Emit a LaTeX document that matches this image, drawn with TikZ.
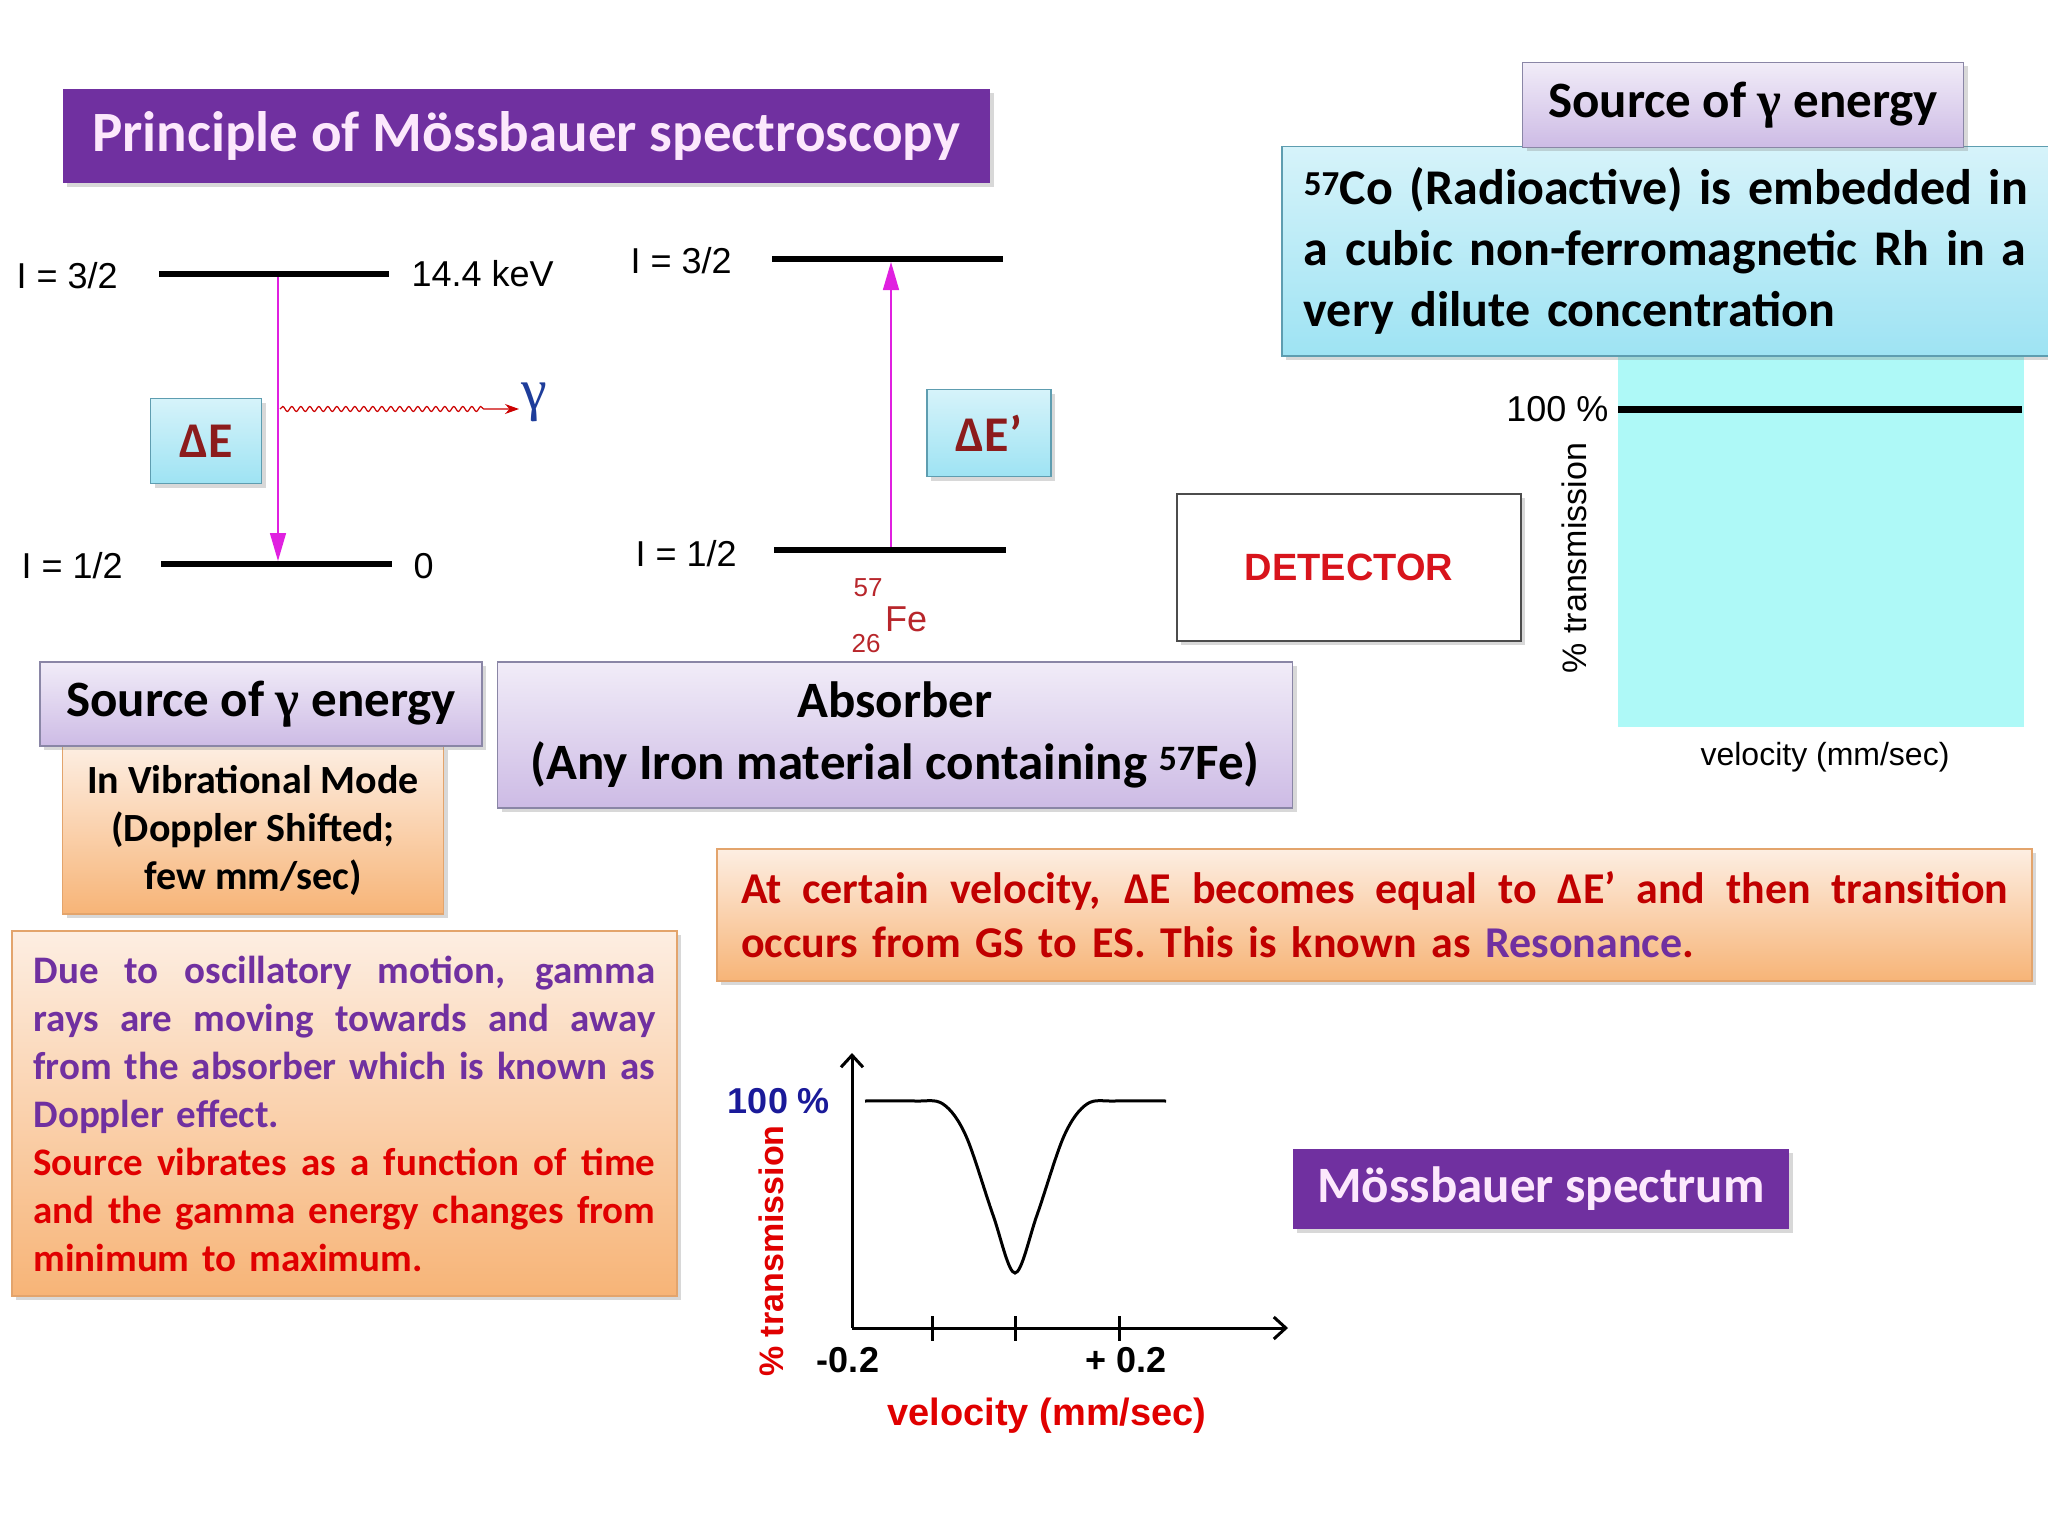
\documentclass[tikz,border=0pt]{standalone}
\usepackage{fontspec}
\setmainfont{Carlito}
\newfontfamily\arialf{Liberation Sans}
\newfontfamily\timesf{Liberation Serif}
\usepackage{xcolor}
\definecolor{mbpurple}{HTML}{7030A0}
\definecolor{titlepink}{HTML}{FCE8FC}
\definecolor{lavtop}{HTML}{F1ECF8}
\definecolor{lavbot}{HTML}{CDBBE5}
\definecolor{lavline}{HTML}{8A86A6}
\definecolor{cyantop}{HTML}{D6F3FA}
\definecolor{cyanbot}{HTML}{9EE3F3}
\definecolor{cyanline}{HTML}{5E9DB0}
\definecolor{orgtop}{HTML}{FDEEE2}
\definecolor{orgbot}{HTML}{F7B477}
\definecolor{orgline}{HTML}{E3A46C}
\definecolor{plotcyan}{HTML}{AEF9F7}
\definecolor{deltared}{HTML}{8C1C1C}
\definecolor{resred}{HTML}{C00000}
\definecolor{dopred}{HTML}{E00000}
\definecolor{detred}{HTML}{D8141C}
\definecolor{gammablue}{HTML}{1E3D9A}
\definecolor{axisblue}{HTML}{1A1A99}
\definecolor{fered}{HTML}{B8262B}
\definecolor{transmag}{HTML}{E020E0}
\usetikzlibrary{arrows.meta,decorations.pathmorphing,shadows,positioning}
% one justified line of fixed width
\newcommand{\jline}[2]{\leavevmode\hbox to #1{\spaceskip=\fontdimen2\font plus 1fil minus .3\fontdimen2\font\relax #2}}

\begin{document}
\begin{tikzpicture}[x=1pt, y=-1pt,
    shbox/.style={drop shadow={shadow xshift=4pt, shadow yshift=-4pt, opacity=.3}},
    headbox/.style={fill=mbpurple, text=titlepink, inner sep=0pt, font=\fontsize{57}{64}\selectfont\bfseries, shbox},
    lavbox/.style={draw=lavline, line width=1.5pt, top color=lavtop, bottom color=lavbot, inner sep=0pt, align=center, font=\fontsize{51}{62}\selectfont\bfseries, shbox},
    cyanbox/.style={draw=cyanline, line width=1.5pt, top color=cyantop, bottom color=cyanbot, inner sep=0pt, shbox},
    orgbox/.style={draw=orgline, line width=1.5pt, top color=orgtop, bottom color=orgbot, inner sep=0pt, shbox},
    deltabox/.style={cyanbox, text=deltared, font=\fontsize{50}{52}\selectfont\bfseries},
    level/.style={line width=6pt},
    lab/.style={font=\arialf\fontsize{36}{40}\selectfont, anchor=west},
    trans/.style={draw=transmag, line width=1.5pt, -{Triangle[length=28pt, width=16pt]}},
    wavy/.style={draw=red!80!black, line width=1.2pt, decorate, decoration={snake, amplitude=2.5pt, segment length=9pt, post length=35pt}},
    axis/.style={line width=3pt, -{Straight Barb[length=12pt, width=22pt]}}
  ]
  \useasboundingbox (0,0) rectangle (2048,1536);
  \fill[white] (0,0) rectangle (2048,1536);

  % title
  \node[headbox, minimum width=927pt, minimum height=94pt] (title) at (526,136) {Principle of Mössbauer spectroscopy};

  % source nucleus levels
  \node[lab] (s32) at (13,276) {I = 3/2};
  \node[lab] (s12) at (18,566) {I = 1/2};
  \node[lab] (skev) at (408,274) {14.4 keV};
  \node[lab] (szero) at (410,566) {0};
  \draw[level] (159,274) -- (389,274);
  \draw[level] (161,564) -- (392,564);
  \coordinate (semtop) at (278,277);
  \coordinate (sembot) at (278,561);
  \draw[trans] (semtop) -- (sembot);
  \node[font=\timesf\fontsize{58}{60}\selectfont, text=gammablue, inner sep=2pt] (gam) at (534,402) {γ};
  \coordinate (wave) at (280,409);
  \draw[wavy, -{Stealth[length=14pt, width=10pt]}] (wave) -- (wave -| gam.west);
  \node[deltabox, minimum width=111pt, minimum height=85pt] (de) at (206,441) {ΔE};

  % absorber nucleus levels
  \node[lab] (a32) at (627,261) {I = 3/2};
  \node[lab] (a12) at (632,554) {I = 1/2};
  \draw[level] (772,259) -- (1003,259);
  \draw[level] (774,550) -- (1006,550);
  \coordinate (abbot) at (891,547);
  \coordinate (abtop) at (891,262);
  \draw[trans] (abbot) -- (abtop);
  \node[deltabox, minimum width=124pt, minimum height=87pt] (dep) at (989,433) {ΔE'};
  \node[font=\arialf\fontsize{26}{28}\selectfont, text=fered] (mass) at (868,588) {57};
  \node[font=\arialf\fontsize{36}{40}\selectfont, text=fered] (fe) at (906,619) {Fe};
  \node[font=\arialf\fontsize{26}{28}\selectfont, text=fered] (znum) at (866,644) {26};

  % detector
  \node[draw=black!70, line width=2pt, fill=white, minimum width=344pt, minimum height=147pt, font=\arialf\bfseries\fontsize{38}{40}\selectfont, text=detred, shbox] (det) at (1349,567) {DETECTOR};

  % transmission without resonance
  \fill[plotcyan] (1618,355) rectangle (2024,727);
  \draw[line width=7pt] (1618,409) -- (2022,409);
  \node[font=\arialf\fontsize{36}{40}\selectfont, anchor=east] (tfull) at (1612,409) {100 \%};
  \node[font=\arialf\fontsize{34}{40}\selectfont, rotate=90] (ttrans) at (1574,558) {\% transmission};
  \node[font=\arialf\fontsize{32}{36}\selectfont] (tvel) at (1825,757) {velocity (mm/sec)};

  % source box, top right
  \node[cyanbox, anchor=north west, minimum width=780pt, minimum height=209pt, inner xsep=22pt, text width=736pt, align=left, font=\fontsize{50}{61}\selectfont\bfseries] (cobox) at (1281,146) {\textsuperscript{57}Co (Radioactive) is embedded in\\a cubic non-ferromagnetic Rh in a\\very dilute concentration};
  \node[lavbox, minimum width=441pt, minimum height=85pt] (srcr) at (1743,105) {Source of {\timesf γ} energy};

  % source and absorber boxes
  \node[orgbox, minimum width=381pt, minimum height=168pt, align=center, font=\fontsize{40}{48}\selectfont\bfseries] (vib) at (253,830) {In Vibrational Mode\\(Doppler Shifted;\\few mm/sec)};
  \node[lavbox, minimum width=442pt, minimum height=84pt] (srcl) at (261,704) {Source of {\timesf γ} energy};
  \node[lavbox, minimum width=795pt, minimum height=146pt] (abs) at (895,735) {Absorber\\(Any Iron material containing \textsuperscript{57}Fe)};

  % doppler note
  \node[orgbox, minimum width=665pt, minimum height=365pt, text width=622pt, align=left, font=\fontsize{39}{48}\selectfont\bfseries] (dop) at (344.5,1113.5) {\color{mbpurple}\jline{622pt}{Due to oscillatory motion, gamma}\\\jline{622pt}{rays are moving towards and away}\\\jline{622pt}{from the absorber which is known as}\\Doppler effect.\\\color{dopred}\jline{622pt}{Source vibrates as a function of time}\\\jline{622pt}{and the gamma energy changes from}\\minimum to maximum.};

  % resonance note
  \node[orgbox, minimum width=1315pt, minimum height=132pt, text width=1267pt, align=left, text=resred, font=\fontsize{44}{54}\selectfont\bfseries] (res) at (1374.5,915) {\jline{1267pt}{At certain velocity, ΔE becomes equal to ΔE’ and then transition}\\occurs from GS to ES. This is known as \textcolor{mbpurple}{Resonance}.};

  % spectrum
  \coordinate (orig) at (852,1328);
  \coordinate (ytip) at (852,1053);
  \coordinate (xtip) at (1288,1328);
  \draw[axis] (orig) -- (ytip);
  \draw[axis] (orig) -- (xtip);
  \foreach \t in {932,1015,1119} { \draw[line width=3pt] (\t,1316) -- (\t,1341); }
  \draw[line width=3pt] plot[smooth, tension=0.55] coordinates {(865,1101) (915,1101) (943,1104) (966,1136) (993,1215) (1015,1273) (1037,1215) (1064,1136) (1087,1104) (1115,1101) (1166,1101)};
  \node[font=\arialf\bfseries\fontsize{36}{40}\selectfont, text=axisblue] (sfull) at (779,1101) {100 \%};
  \node[font=\arialf\bfseries\fontsize{34}{40}\selectfont, text=dopred, rotate=90] (strans) at (771,1251) {\% transmission};
  \node[font=\arialf\bfseries\fontsize{36}{40}\selectfont] (sneg) at (848,1360) {-0.2};
  \node[font=\arialf\bfseries\fontsize{36}{40}\selectfont] (spos) at (1126,1360) {+ 0.2};
  \node[font=\arialf\bfseries\fontsize{38}{40}\selectfont, text=dopred] (svel) at (1047,1416) {velocity (mm/sec)};
  \node[headbox, minimum width=496pt, minimum height=80pt, font=\fontsize{51}{56}\selectfont\bfseries] (spec) at (1541,1189) {Mössbauer spectrum};
\end{tikzpicture}
\end{document}
